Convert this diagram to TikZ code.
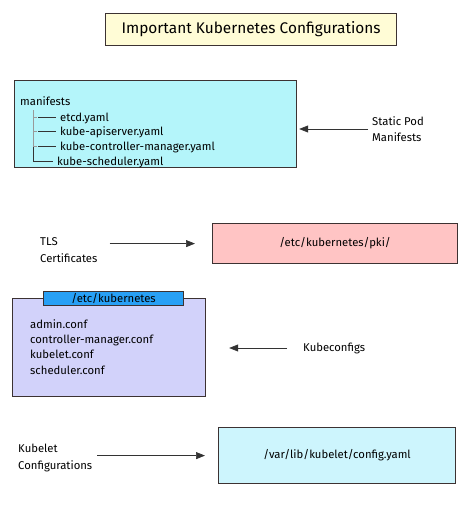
\documentclass[tikz,border=0pt]{standalone}
\usepackage{fontspec}
\setmainfont{Fira Sans}
\usetikzlibrary{arrows.meta}
\definecolor{titlefill}{RGB}{255,252,214}
\definecolor{manifill}{RGB}{180,245,250}
\definecolor{pkifill}{RGB}{255,196,196}
\definecolor{conffill}{RGB}{210,210,250}
\definecolor{tabfill}{RGB}{40,160,245}
\definecolor{kletfill}{RGB}{205,245,253}
\definecolor{boxline}{RGB}{60,50,50}
\tikzset{
  box/.style = {draw = boxline, line width = 1.2pt, anchor = north west, inner sep = 0pt},
  txt/.style = {font = \fontsize{11.3}{16.5}\selectfont, inner sep = 0pt},
  lbl/.style = {txt, align = left, anchor = west},
  arr/.style = {-{Triangle[length = 9pt, width = 7pt]}, line width = 0.7pt, black!80}
}
\begin{document}
\begin{tikzpicture}[x = 1pt, y = -1pt]
  \useasboundingbox [fill = white] (0, 0) rectangle (474, 511);
  % title
  \node (title) [box, fill = titlefill, minimum width = 291pt, minimum height = 32pt,
    font = \fontsize{15.4}{18}\selectfont] at (105, 13) {Important Kubernetes Configurations};
  % static pod manifests
  \node (mani) [box, fill = manifill, minimum width = 282pt, minimum height = 87pt] at (14, 80) {};
  \node (mroot) [txt, anchor = base west] at (20, 105) {manifests};
  \node (metcd) [txt, anchor = base west] at (60, 121) {etcd.yaml};
  \node (mapi) [txt, anchor = base west] at (60, 135) {kube-apiserver.yaml};
  \node (mcm) [txt, anchor = base west] at (60, 150) {kube-controller-manager.yaml};
  \node (msched) [txt, anchor = base west] at (57, 165) {kube-scheduler.yaml};
  \draw [gray!80, line width = 0.6pt] (33, 110) -- (33, 147);
  \draw [black!80, line width = 0.8pt] (33, 147) -- (33, 161) -- (53, 161);
  \foreach \y in {117, 131, 146}
    \draw [gray!80, line width = 0.6pt] (33, \y) -- (37, \y);
  \foreach \y in {117, 131, 146}
    \draw [black!80, line width = 0.8pt] (38, \y) -- (56, \y);
  \node (static) [lbl] at (372, 129) {Static Pod\\Manifests};
  \draw [arr, shorten < = 4pt, shorten > = 2pt] (static.west) -- (static.west -| mani.east);
  % tls certificates
  \node (pki) [box, fill = pkifill, minimum width = 245pt, minimum height = 40pt] at (212, 223) {};
  \node (pkitxt) [txt] at (pki.center) {/etc/kubernetes/pki/};
  \node (tls) [lbl] at (40, 250) {TLS\\Certificates};
  \draw [arr, shorten < = 12pt, shorten > = 17pt] (tls.east |- pki.west) -- (pki.west);
  % kubeconfigs
  \node (conf) [box, fill = conffill, minimum width = 193pt, minimum height = 98pt] at (12, 298) {};
  \node (tab) [box, fill = tabfill, minimum width = 140pt, minimum height = 14pt] at (43, 291) {};
  \node (tabtxt) [txt] at (tab.center) {/etc/kubernetes};
  \node (confs) [txt, align = left, anchor = north west,
    font = \fontsize{11.3}{15.4}\selectfont] at (30, 319) {admin.conf\\controller-manager.conf\\kubelet.conf\\scheduler.conf};
  \node (kcfg) [lbl] at (303, 348) {Kubeconfigs};
  \draw [arr, shorten < = 16pt, shorten > = 23pt] (kcfg.west) -- (kcfg.west -| conf.east);
  % kubelet configurations
  \node (klet) [box, fill = kletfill, minimum width = 237pt, minimum height = 56pt] at (218, 427) {};
  \node (klettxt) [txt] at (klet.center) {/var/lib/kubelet/config.yaml};
  \node (kconf) [lbl] at (18, 458) {Kubelet\\Configurations};
  \draw [arr, shorten < = 5pt, shorten > = 13pt] (kconf.east |- klet.west) -- (klet.west);
\end{tikzpicture}
\end{document}
